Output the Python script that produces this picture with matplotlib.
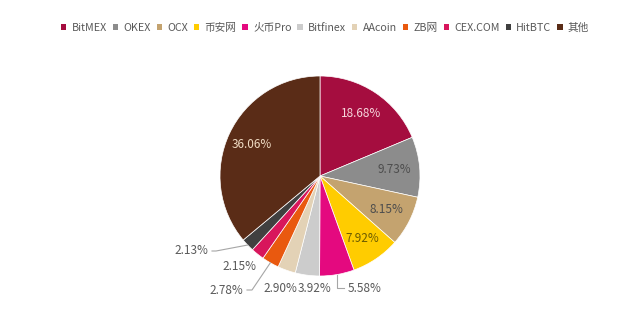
import numpy as np
import matplotlib
matplotlib.use('Agg')
import matplotlib.pyplot as plt
from matplotlib.patches import Patch

plt.rcParams['font.family'] = ['Noto Sans CJK SC', 'DejaVu Sans']

names = ['BitMEX', 'OKEX', 'OCX', '币安网', '火币Pro', 'Bitfinex', 'AAcoin',
         'ZB网', 'CEX.COM', 'HitBTC', '其他']
shares = [18.68, 9.73, 8.15, 7.92, 5.58, 3.92, 2.90, 2.78, 2.15, 2.13, 36.06]
colors = ['#A50D3F', '#8C8C8C', '#C4A36F', '#FFCC00', '#E4097F', '#CCCCCC',
          '#E3D2B6', '#E9590F', '#D8165C', '#404040', '#5A2C17']

# labels drawn inside the wedge: index -> text colour
inside = {0: '#F6D6DC', 1: '#4D4D4D', 2: '#4D4D4D', 3: '#6B5B00', 10: '#F0DCC4'}
# labels outside: index -> (text pos, elbow pos or None, ha)
outside = {
    4: ((0.28, -1.12), (0.17, -1.12), 'left'),
    5: ((-0.05, -1.13), None, 'center'),
    6: ((-0.40, -1.12), None, 'center'),
    7: ((-0.77, -1.14), (-0.68, -1.14), 'right'),
    8: ((-0.81, -0.91), None, 'center'),
    9: ((-1.12, -0.75), (-1.04, -0.75), 'right'),
}

fig = plt.figure(figsize=(6.4, 3.17), dpi=100)
ax = fig.add_axes([220 / 640, 41 / 317, 200 / 640, 200 / 317])

wedges, _ = ax.pie(shares, colors=colors, startangle=90, counterclock=False,
                   wedgeprops=dict(linewidth=0.5, edgecolor='white'))
ax.set_xlim(-1, 1)
ax.set_ylim(-1, 1)
ax.set_aspect('equal')

for i, w in enumerate(wedges):
    mid = np.deg2rad((w.theta1 + w.theta2) / 2)
    lab = '%.2f%%' % shares[i]
    if i in inside:
        ax.text(0.75 * np.cos(mid), 0.75 * np.sin(mid), lab, color=inside[i],
                fontsize=8.5, ha='center', va='center')
    elif i in outside:
        pos, elbow, ha = outside[i]
        ax.text(pos[0], pos[1], lab, color='#595959', fontsize=8.5,
                ha=ha, va='center', clip_on=False)
        if elbow is not None:
            x0, y0 = np.cos(mid), np.sin(mid)
            if i == 4:
                xs = [x0, x0, elbow[0] + 0.07]
                ys = [y0, elbow[1], elbow[1]]
            else:
                end = pos[0] + 0.04
                xs = [x0, elbow[0], end]
                ys = [y0, elbow[1], elbow[1]]
            ax.plot(xs, ys, color='#A6A6A6', lw=0.8, clip_on=False)

handles = [Patch(facecolor=c, edgecolor='none') for c in colors]
fig.legend(handles, names, loc='center', bbox_to_anchor=(325 / 640, 1 - 28 / 317),
           ncol=len(names), frameon=False, fontsize=7.7, handlelength=0.5,
           handleheight=0.5, handletextpad=0.5, columnspacing=0.55,
           labelcolor='#595959')

fig.savefig('out.png', dpi=100, facecolor='white')
